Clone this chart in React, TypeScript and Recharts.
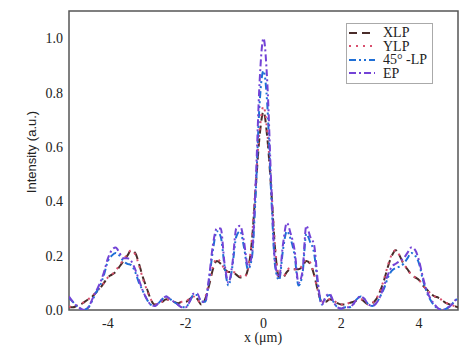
import { LineChart, Line, XAxis, YAxis, ReferenceArea, Label } from 'recharts'

const xPos = [
  -5.0, -4.9, -4.8, -4.7, -4.6, -4.5, -4.4, -4.3, -4.2, -4.1,
  -4.0, -3.9, -3.8, -3.7, -3.6, -3.5, -3.4, -3.3, -3.2, -3.1,
  -3.0, -2.9, -2.8, -2.7, -2.6, -2.5, -2.4, -2.3, -2.2, -2.1,
  -2.0, -1.9, -1.8, -1.7, -1.6, -1.5, -1.4, -1.3, -1.2, -1.1,
  -1.0, -0.9, -0.8, -0.7, -0.6, -0.5, -0.4, -0.3, -0.2, -0.1,
  0.0, 0.1, 0.2, 0.3, 0.4, 0.5, 0.6, 0.7, 0.8, 0.9,
  1.0, 1.1, 1.2, 1.3, 1.4, 1.5, 1.6, 1.7, 1.8, 1.9,
  2.0, 2.1, 2.2, 2.3, 2.4, 2.5, 2.6, 2.7, 2.8, 2.9,
  3.0, 3.1, 3.2, 3.3, 3.4, 3.5, 3.6, 3.7, 3.8, 3.9,
  4.0, 4.1, 4.2, 4.3, 4.4, 4.5, 4.6, 4.7, 4.8, 4.9,
  5.0,
]

const xlp = [
  0.01, 0.01, 0.015, 0.02, 0.03, 0.04, 0.05, 0.065, 0.08, 0.1,
  0.12, 0.13, 0.14, 0.16, 0.18, 0.2, 0.22, 0.21, 0.17, 0.12,
  0.08, 0.04, 0.02, 0.02, 0.03, 0.04, 0.035, 0.03, 0.025, 0.03,
  0.03, 0.04, 0.05, 0.04, 0.02, 0.04, 0.09, 0.15, 0.18, 0.17,
  0.15, 0.14, 0.14, 0.13, 0.12, 0.12, 0.15, 0.25, 0.45, 0.64,
  0.73, 0.63, 0.44, 0.22, 0.12, 0.12, 0.14, 0.15, 0.15, 0.15,
  0.16, 0.18, 0.17, 0.13, 0.07, 0.03, 0.03, 0.04, 0.035, 0.025,
  0.02, 0.02, 0.025, 0.03, 0.035, 0.04, 0.03, 0.02, 0.025, 0.04,
  0.07, 0.11, 0.16, 0.2, 0.22, 0.2, 0.17, 0.15, 0.13, 0.12,
  0.11, 0.09, 0.075, 0.06, 0.05, 0.045, 0.035, 0.025, 0.02, 0.015,
  0.01,
]

const ylp = [
  0.012, 0.012, 0.016, 0.022, 0.03, 0.04, 0.052, 0.066, 0.082, 0.1,
  0.12, 0.13, 0.145, 0.165, 0.185, 0.205, 0.22, 0.205, 0.165, 0.115,
  0.075, 0.04, 0.02, 0.022, 0.032, 0.04, 0.035, 0.03, 0.026, 0.03,
  0.032, 0.042, 0.05, 0.04, 0.022, 0.045, 0.1, 0.16, 0.19, 0.175,
  0.15, 0.14, 0.14, 0.135, 0.125, 0.12, 0.15, 0.26, 0.47, 0.66,
  0.75, 0.65, 0.45, 0.23, 0.12, 0.12, 0.145, 0.155, 0.15, 0.15,
  0.165, 0.185, 0.175, 0.13, 0.07, 0.03, 0.032, 0.04, 0.035, 0.025,
  0.02, 0.02, 0.026, 0.03, 0.036, 0.04, 0.03, 0.02, 0.026, 0.042,
  0.072, 0.115, 0.165, 0.205, 0.22, 0.2, 0.17, 0.15, 0.13, 0.12,
  0.11, 0.09, 0.075, 0.06, 0.05, 0.045, 0.035, 0.026, 0.02, 0.015,
  0.012,
]

const lp45 = [
  0.045, 0.03, 0.015, 0.005, 0.002, 0.01, 0.035, 0.065, 0.09, 0.13,
  0.18, 0.2, 0.21, 0.2, 0.18, 0.17, 0.165, 0.14, 0.1, 0.07,
  0.04, 0.02, 0.015, 0.025, 0.04, 0.05, 0.04, 0.03, 0.02, 0.012,
  0.01, 0.03, 0.055, 0.055, 0.03, 0.03, 0.11, 0.22, 0.29, 0.27,
  0.16, 0.09, 0.16, 0.27, 0.29, 0.23, 0.15, 0.19, 0.43, 0.76,
  0.88, 0.75, 0.42, 0.16, 0.11, 0.22, 0.29, 0.26, 0.2, 0.09,
  0.13, 0.28, 0.25, 0.21, 0.09, 0.02, 0.045, 0.055, 0.03, 0.01,
  0.005, 0.01, 0.01, 0.02, 0.04, 0.05, 0.04, 0.02, 0.015, 0.025,
  0.05, 0.08, 0.12, 0.145, 0.155, 0.16, 0.17, 0.19, 0.21, 0.2,
  0.17, 0.11, 0.065, 0.035, 0.015, 0.005, 0.0, 0.005, 0.015, 0.03,
  0.045,
]

const ep = [
  0.05, 0.03, 0.015, 0.005, 0.0, 0.01, 0.04, 0.07, 0.1, 0.14,
  0.19, 0.22, 0.23, 0.21, 0.19, 0.19, 0.18, 0.15, 0.11, 0.07,
  0.04, 0.02, 0.015, 0.025, 0.04, 0.05, 0.04, 0.03, 0.02, 0.01,
  0.01, 0.03, 0.06, 0.06, 0.03, 0.03, 0.12, 0.24, 0.3, 0.3,
  0.17, 0.1, 0.17, 0.3, 0.31, 0.25, 0.16, 0.2, 0.47, 0.84,
  1.0, 0.83, 0.46, 0.17, 0.12, 0.24, 0.32, 0.28, 0.22, 0.1,
  0.14, 0.31, 0.27, 0.24, 0.1, 0.02, 0.05, 0.06, 0.03, 0.01,
  0.005, 0.01, 0.01, 0.02, 0.04, 0.05, 0.04, 0.02, 0.015, 0.025,
  0.05, 0.09, 0.13, 0.16, 0.17, 0.18, 0.19, 0.21, 0.23, 0.22,
  0.18, 0.12, 0.07, 0.04, 0.02, 0.005, 0.0, 0.005, 0.015, 0.03,
  0.05,
]

const xTicks = [-4, -2, 0, 2, 4]
const yTicks = [0, 0.2, 0.4, 0.6, 0.8, 1.0]

const seriesNames = ['XLP', 'YLP', '45\u00b0 -LP', 'EP']

const data = xPos.map((x, i) => ({ x, xlp: xlp[i], ylp: ylp[i], lp45: lp45[i], ep: ep[i] }))

const styles = [
  { key: 'xlp', color: '#4a2c2a', dash: '8 5' },
  { key: 'ylp', color: '#d9506e', dash: '2 5' },
  { key: 'lp45', color: '#1f6fd6', dash: '7 3 2 3 2 3' },
  { key: 'ep', color: '#7343d6', dash: '7 3 2 3' },
]

const serif = '"Liberation Serif", "Times New Roman", serif'

function XTick(props: any) {
  const { x, y, payload } = props
  return (
    <text x={x} y={y} dy="0.71em" textAnchor="middle" fontFamily={serif} fontSize={14} fill="#222">
      {payload.value}
    </text>
  )
}

function YTick(props: any) {
  const { x, y, payload } = props
  return (
    <text x={x} y={y} dy="0.355em" textAnchor="end" fontFamily={serif} fontSize={14} fill="#222">
      {Number(payload.value).toFixed(1)}
    </text>
  )
}

function LegendBox() {
  return (
    <div
      style={{
        position: 'absolute',
        left: 346,
        top: 23,
        border: '1px solid #aaa',
        background: '#fff',
        padding: '2px 5px 3px 2px',
        fontFamily: serif,
        fontSize: 14,
        lineHeight: '13.5px',
        color: '#222',
      }}
    >
      {styles.map((s, i) => (
        <div key={s.key} style={{ display: 'flex', alignItems: 'center', height: 13.5 }}>
          <svg width={28} height={8} style={{ marginRight: 6 }}>
            <line x1={0} y1={4} x2={26} y2={4} stroke={s.color} strokeWidth={2} strokeDasharray={s.dash} />
          </svg>
          <span>{seriesNames[i]}</span>
        </div>
      ))}
    </div>
  )
}

export default function App() {
  return (
    <div style={{ position: 'absolute', left: 0, top: 0, width: 474, height: 363, background: '#fff', fontFamily: serif }}>
      <LineChart width={474} height={363} data={data} margin={{ top: 11, right: 16, bottom: 0, left: 0 }}>
        <XAxis
          dataKey="x"
          type="number"
          domain={[-5, 5]}
          ticks={xTicks}
          allowDataOverflow
          axisLine={false}
          tickLine={false}
          tickMargin={2}
          height={53}
          tick={<XTick />}
        >
          <Label
            content={() => (
              <text x={263} y={339} textAnchor="middle" dominantBaseline="middle" fontFamily={serif} fontSize={14} fill="#222">
                {'x (\u03bcm)'}
              </text>
            )}
          />
        </XAxis>
        <YAxis
          type="number"
          domain={[0, 1.1]}
          ticks={yTicks}
          allowDataOverflow
          axisLine={false}
          tickLine={false}
          tickMargin={0}
          width={69}
          tick={<YTick />}
        >
          <Label
            content={() => (
              <text
                x={33}
                y={152}
                transform="rotate(-90 33 152)"
                textAnchor="middle"
                dominantBaseline="middle"
                fontFamily='"Liberation Sans", Arial, sans-serif'
                fontSize={13}
                fill="#222"
              >
                Intensity (a.u.)
              </text>
            )}
          />
        </YAxis>
        {styles.map((s) => (
          <Line
            key={s.key}
            type="monotone"
            dataKey={s.key}
            stroke={s.color}
            strokeWidth={2}
            strokeDasharray={s.dash}
            dot={false}
            isAnimationActive={false}
          />
        ))}
        <ReferenceArea x1={-5} x2={5} y1={0} y2={1.1} fill="none" stroke="#555" strokeWidth={1.5} ifOverflow="visible" />
      </LineChart>
      <LegendBox />
    </div>
  )
}
